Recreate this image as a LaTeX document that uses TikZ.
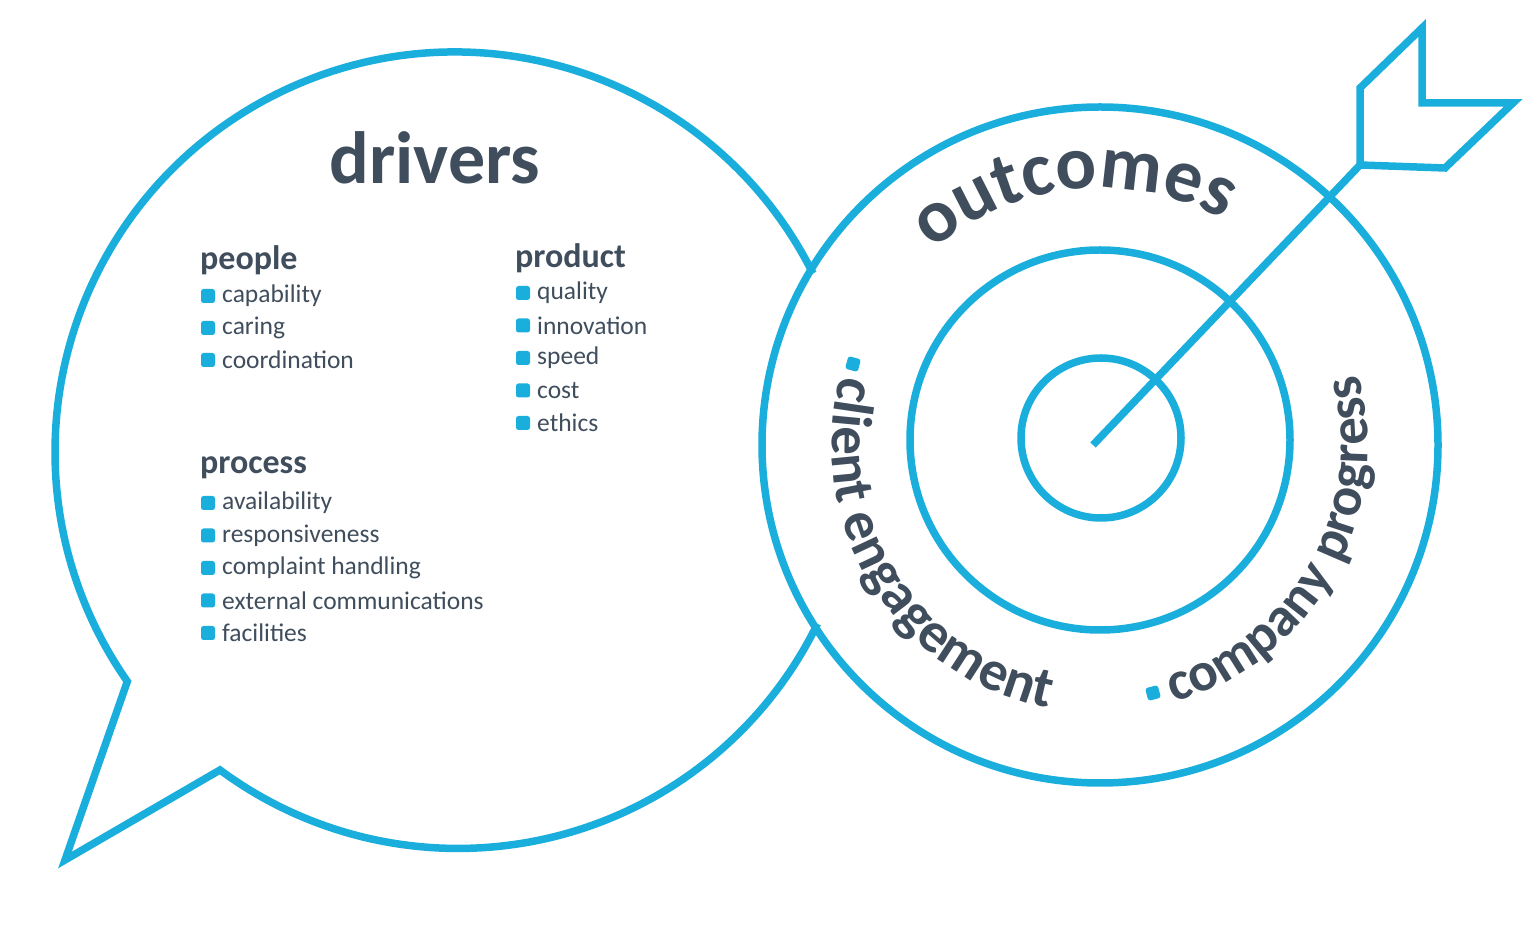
\documentclass[tikz,border=0pt]{standalone}
\usepackage{fontspec}
\setmainfont{Carlito}
\usetikzlibrary{decorations.text}
\definecolor{bl}{HTML}{1AAEDC}
\definecolor{tx}{HTML}{3F4D5C}
\begin{document}
\begin{tikzpicture}[x=1pt,y=1pt,
  ring/.style={draw=bl,line width=7.5pt},
  bul/.style={fill=bl,rounded corners=2.5pt,minimum size=14pt,inner sep=0pt},
  item/.style={anchor=west,text=tx,font=\fontsize{25.5}{25.5}\selectfont,inner sep=0pt},
  head/.style={anchor=west,text=tx,font=\fontsize{34}{34}\selectfont\bfseries,inner sep=0pt}]
\useasboundingbox (0,0) rectangle (1537,940);
% speech bubble
\draw[ring,line join=miter] (455,488) ++(26.5:400) arc (26.5:215:400) -- (65,80) -- (220,170) coordinate (tb) arc (233.5:334:400);
% target
\node[ring,circle,minimum size=676pt,inner sep=0pt] (t1) at (1100,495) {};
\node[ring,circle,minimum size=380pt,inner sep=0pt] (t2) at (1100,500) {};
\node[ring,circle,minimum size=160pt,inner sep=0pt] (t3) at (1101,502) {};
% arrow
\coordinate (tip) at (1093,495);
\coordinate (tail) at (1360,775);
\draw[draw=bl,line width=7.5pt] (tip) -- (tail);
\draw[ring,line join=miter] (1360,775) -- (1360,852) -- (1422,912) -- (1422,837) -- (1513,837) -- (1445,772) -- cycle;
% texts
\node[text=tx,font=\fontsize{74}{74}\selectfont\bfseries] (dr) at (435,782) {drivers};
\node[head] (h1) at (200,680) {people};
\node[head] (h2) at (515,682) {product};
\node[head] (h3) at (200,472) {process};
\foreach \t [count=\i] in {capability,caring,coordination}{
  \node[bul] (pb\i) at (208,{940-296-32*(\i-1)}) {};
  \node[item] (p\i) at (222,{940-296-32*(\i-1)}) {\t};}
\foreach \t [count=\i] in {quality,innovation,speed,cost,ethics}{
  \node[bul] (qb\i) at (523,{940-293-32.5*(\i-1)}) {};
  \node[item] (q\i) at (537,{940-293-32.5*(\i-1)}) {\t};}
\foreach \t [count=\i] in {availability,responsiveness,complaint handling,external communications,facilities}{
  \node[bul] (rb\i) at (208,{940-503-32.5*(\i-1)}) {};
  \node[item] (r\i) at (222,{940-503-32.5*(\i-1)}) {\t};}
% curved texts
\path[decorate,decoration={text along path,text align=center,
  text={|\fontsize{76}{76}\selectfont\bfseries\color{tx}|outcomes}}]
  (1100,495) ++(135:257) arc (135:57:257);
\path[decorate,decoration={text along path,text align=left,
  text={|\fontsize{57}{57}\selectfont\bfseries\color{tx}|client engagement}}]
  (1100,495) ++(165:268) arc (165:280:268);
\path[decorate,decoration={text along path,text align=left,
  text={|\fontsize{55}{55}\selectfont\bfseries\color{tx}|company progress}}]
  (1100,495) ++(-74:268) arc (-74:25:268);
\node[bul,minimum size=13pt,rotate=-15] (d1) at (853,576) {};
\node[bul,minimum size=13pt,rotate=15] (d2) at (1153,247) {};
\end{tikzpicture}
\end{document}
